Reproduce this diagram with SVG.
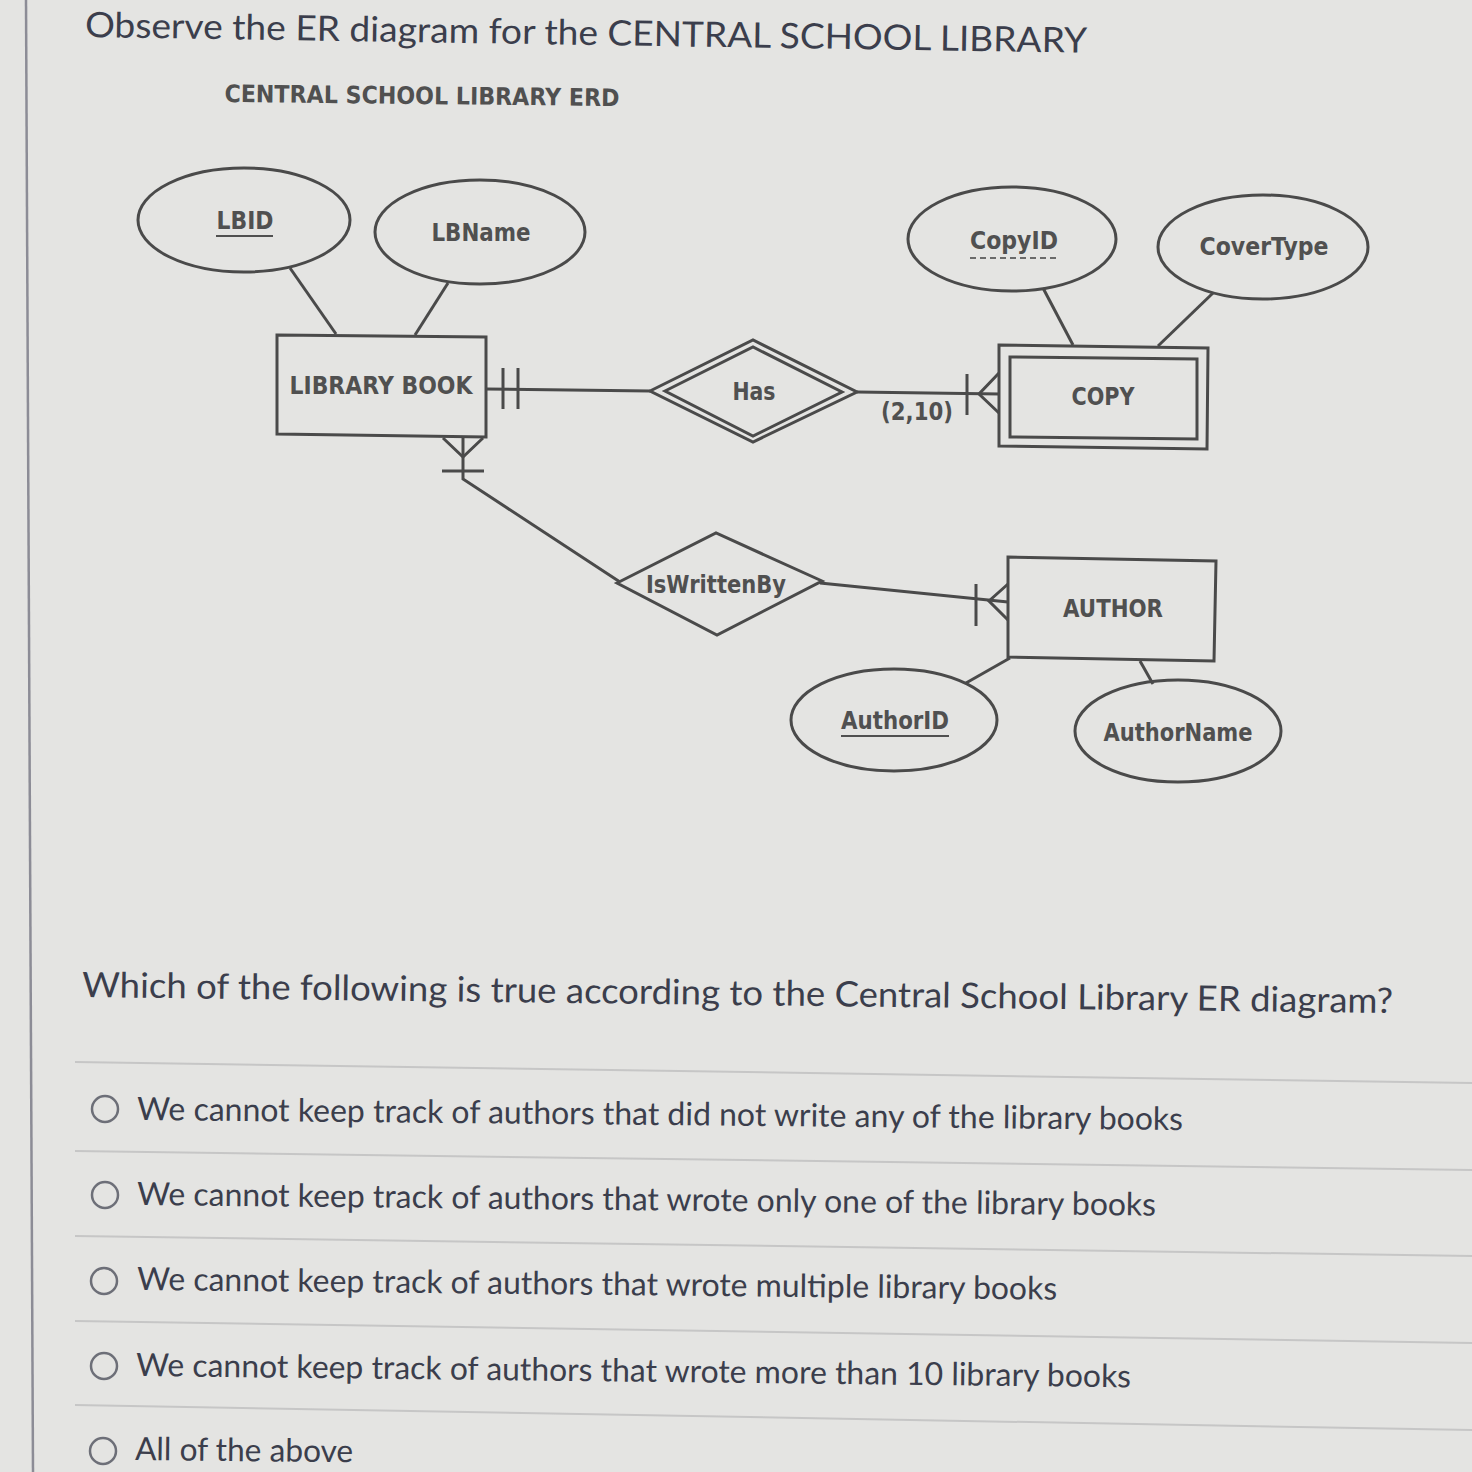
<svg xmlns="http://www.w3.org/2000/svg" width="1472" height="1472" viewBox="0 0 1472 1472">
<style>
.bg{fill:#e4e4e2}
.page{font-family:Lato,"Open Sans","Liberation Sans",sans-serif;fill:#3b3e4c}
.lbl{font-family:"DejaVu Sans","Liberation Sans",sans-serif;font-weight:bold;fill:#505050;text-anchor:middle;dominant-baseline:central}
.shape{fill:none;stroke:#4a4a4a;stroke-width:3}
.conn{fill:none;stroke:#4a4a4a;stroke-width:3}
.sep{stroke:#c6c6c6;stroke-width:2}
.radio{fill:none;stroke:#6d6f78;stroke-width:2.5}
</style>
<rect class="bg" x="0" y="0" width="1472" height="1472"/>
<line x1="26" y1="0" x2="33" y2="1472" stroke="#8c8c96" stroke-width="2.5"/>

<text class="page" x="85" y="37" font-size="35" textLength="1002" lengthAdjust="spacingAndGlyphs" transform="rotate(0.9 85 37)">Observe the ER diagram for the CENTRAL SCHOOL LIBRARY</text>
<text class="lbl" x="422" y="96" font-size="24" textLength="395" lengthAdjust="spacingAndGlyphs" transform="rotate(0.6 422 96)">CENTRAL SCHOOL LIBRARY ERD</text>

<g id="connectors">
  <line class="conn" x1="290" y1="268" x2="336" y2="334"/>
  <line class="conn" x1="448" y1="283" x2="415" y2="335"/>
  <line class="conn" x1="1043" y1="288" x2="1073" y2="345"/>
  <line class="conn" x1="1213" y1="293" x2="1158" y2="346"/>
  <line class="conn" x1="966" y1="683" x2="1010" y2="658"/>
  <line class="conn" x1="1140" y1="661" x2="1153" y2="684"/>
  <line class="conn" x1="486" y1="389" x2="650" y2="391"/>
  <line class="conn" x1="503" y1="368" x2="503" y2="409"/>
  <line class="conn" x1="518" y1="368" x2="518" y2="409"/>
  <line class="conn" x1="857" y1="392" x2="1000" y2="394"/>
  <line class="conn" x1="967" y1="374" x2="967" y2="415"/>
  <polyline class="conn" points="999,373 979,394 999,413"/>
  <polyline class="conn" points="443,438 463,457 483,438"/>
  <polyline class="conn" points="463,438 463,479 620,582"/>
  <line class="conn" x1="442" y1="471" x2="484" y2="471"/>
  <line class="conn" x1="820" y1="583" x2="1008" y2="602"/>
  <line class="conn" x1="976" y1="584" x2="976" y2="626"/>
  <polyline class="conn" points="1008,584 989,601 1008,620"/>
</g>

<g id="LBID">
  <ellipse class="shape" cx="244" cy="220" rx="106" ry="52"/>
  <text class="lbl" x="245" y="221" font-size="24" textLength="57" lengthAdjust="spacingAndGlyphs">LBID</text>
  <line x1="216" y1="236" x2="273" y2="236" stroke="#505050" stroke-width="2"/>
</g>
<g id="LBName">
  <ellipse class="shape" cx="480" cy="232" rx="105" ry="52"/>
  <text class="lbl" x="481" y="233" font-size="24" textLength="99" lengthAdjust="spacingAndGlyphs">LBName</text>
</g>
<g id="CopyID">
  <ellipse class="shape" cx="1012" cy="239" rx="104" ry="52"/>
  <text class="lbl" x="1014" y="241" font-size="24" textLength="88" lengthAdjust="spacingAndGlyphs">CopyID</text>
  <line x1="970" y1="258" x2="1057" y2="258" stroke="#6a6a6a" stroke-width="2" stroke-dasharray="6,4"/>
</g>
<g id="CoverType">
  <ellipse class="shape" cx="1263" cy="247" rx="105" ry="52"/>
  <text class="lbl" x="1264" y="247" font-size="24" textLength="129" lengthAdjust="spacingAndGlyphs">CoverType</text>
</g>
<g id="LIBRARY_BOOK">
  <polygon class="shape" points="277,335 486,337 486,437 277,434"/>
  <text class="lbl" x="381" y="386" font-size="24" textLength="183" lengthAdjust="spacingAndGlyphs">LIBRARY BOOK</text>
</g>
<g id="Has">
  <polygon class="shape" points="650,391 753,340 857,392 753,442"/>
  <polygon class="shape" points="665,391 753,347 842,392 753,436"/>
  <text class="lbl" x="754" y="392" font-size="24" textLength="43" lengthAdjust="spacingAndGlyphs">Has</text>
</g>
<text class="lbl" x="917" y="412" font-size="24" textLength="72" lengthAdjust="spacingAndGlyphs">(2,10)</text>
<g id="COPY">
  <polygon class="shape" points="999,345 1208,348 1207,449 999,446"/>
  <polygon class="shape" points="1010,357 1197,359 1197,439 1010,437"/>
  <text class="lbl" x="1103" y="397" font-size="24" textLength="63" lengthAdjust="spacingAndGlyphs">COPY</text>
</g>
<g id="IsWrittenBy">
  <polygon class="shape" points="617,583 716,533 822,581 717,635"/>
  <text class="lbl" x="716" y="585" font-size="24" textLength="140" lengthAdjust="spacingAndGlyphs">IsWrittenBy</text>
</g>
<g id="AUTHOR">
  <polygon class="shape" points="1008,557 1216,561 1214,661 1008,657"/>
  <text class="lbl" x="1113" y="609" font-size="24" textLength="100" lengthAdjust="spacingAndGlyphs">AUTHOR</text>
</g>
<g id="AuthorID">
  <ellipse class="shape" cx="894" cy="720" rx="103" ry="51"/>
  <text class="lbl" x="895" y="721" font-size="24" textLength="108" lengthAdjust="spacingAndGlyphs">AuthorID</text>
  <line x1="841" y1="736" x2="949" y2="736" stroke="#505050" stroke-width="2"/>
</g>
<g id="AuthorName">
  <ellipse class="shape" cx="1178" cy="731" rx="103" ry="51"/>
  <text class="lbl" x="1178" y="733" font-size="24" textLength="149" lengthAdjust="spacingAndGlyphs">AuthorName</text>
</g>

<text class="page" x="82" y="997" font-size="35" textLength="1311" lengthAdjust="spacingAndGlyphs" transform="rotate(0.7 82 997)">Which of the following is true according to the Central School Library ER diagram?</text>

<g id="options">
  <line class="sep" x1="75" y1="1062" x2="1472" y2="1083"/>
  <line class="sep" x1="75" y1="1151" x2="1472" y2="1170"/>
  <line class="sep" x1="75" y1="1236" x2="1472" y2="1256"/>
  <line class="sep" x1="75" y1="1321" x2="1472" y2="1343"/>
  <line class="sep" x1="75" y1="1405" x2="1472" y2="1430"/>
  <circle class="radio" cx="105" cy="1109" r="13"/>
  <circle class="radio" cx="105" cy="1195" r="13"/>
  <circle class="radio" cx="104" cy="1281" r="13"/>
  <circle class="radio" cx="104" cy="1366" r="13"/>
  <circle class="radio" cx="103" cy="1451" r="13"/>
  <text class="page" x="137" y="1120" font-size="32" textLength="1046" lengthAdjust="spacingAndGlyphs" transform="rotate(0.55 137 1120)">We cannot keep track of authors that did not write any of the library books</text>
  <text class="page" x="137" y="1205" font-size="32" textLength="1019" lengthAdjust="spacingAndGlyphs" transform="rotate(0.6 137 1205)">We cannot keep track of authors that wrote only one of the library books</text>
  <text class="page" x="137" y="1290" font-size="32" textLength="920" lengthAdjust="spacingAndGlyphs" transform="rotate(0.6 137 1290)">We cannot keep track of authors that wrote multiple library books</text>
  <text class="page" x="136" y="1376" font-size="32" textLength="995" lengthAdjust="spacingAndGlyphs" transform="rotate(0.65 136 1376)">We cannot keep track of authors that wrote more than 10 library books</text>
  <text class="page" x="135" y="1460" font-size="32" textLength="218" lengthAdjust="spacingAndGlyphs" transform="rotate(0.6 135 1460)">All of the above</text>
</g>
</svg>
